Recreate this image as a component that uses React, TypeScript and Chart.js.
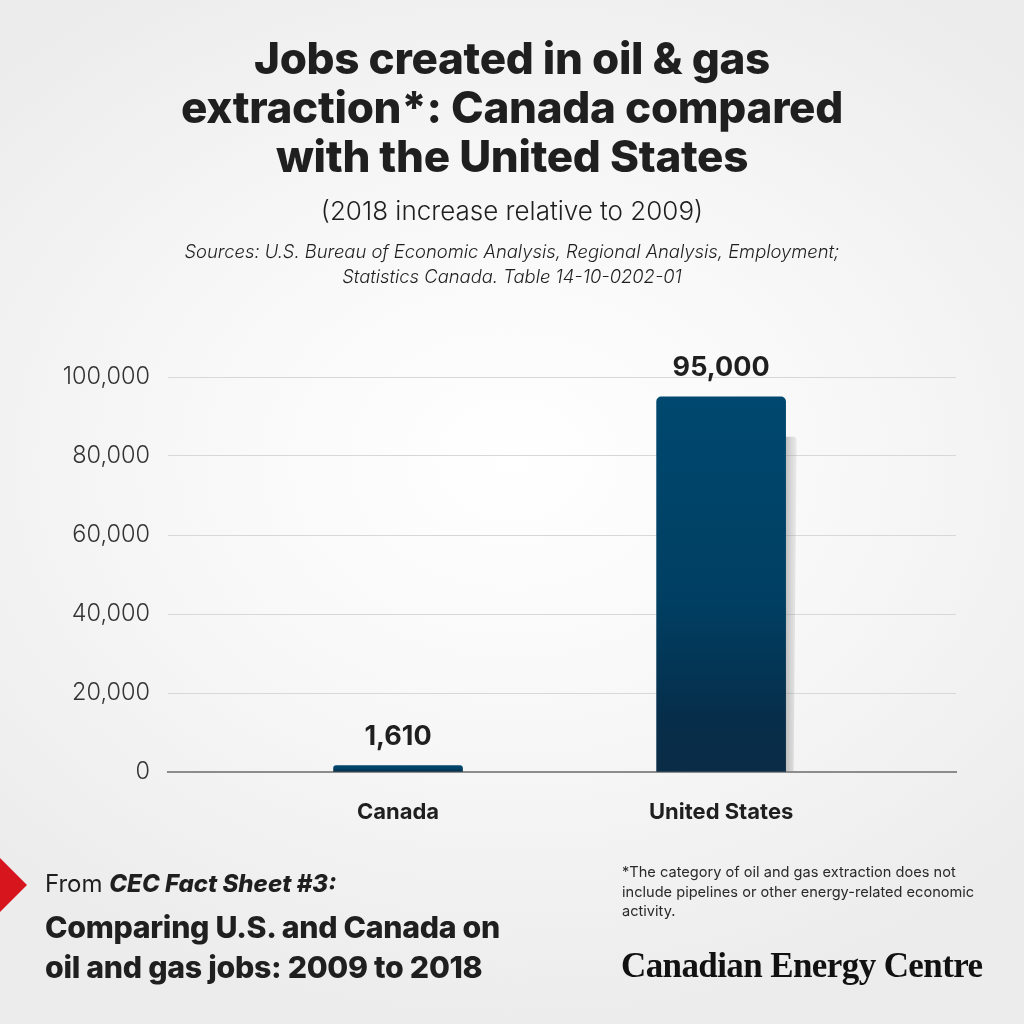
import React, { useEffect, useRef } from "react";
import { Chart, registerables } from "chart.js";

Chart.register(...registerables);

const categories = ["Canada", "United States"];
const jobsCreated = [1610, 95000];
const yTicks = [0, 20000, 40000, 60000, 80000, 100000];

const FONT = "Inter, 'Noto Sans', Lato, sans-serif";

const fmt = (v: number) => v.toLocaleString("en-US");

const valueLabels = {
  id: "valueLabels",
  afterDatasetsDraw(chart: any) {
    const ctx = chart.ctx;
    const meta = chart.getDatasetMeta(0);
    ctx.save();
    ctx.font = `700 27px ${FONT}`;
    ctx.fillStyle = "#1f1f1f";
    ctx.textAlign = "center";
    ctx.textBaseline = "alphabetic";
    meta.data.forEach((bar: any, i: number) => {
      ctx.fillText(fmt(jobsCreated[i]), bar.x, bar.y - 21);
    });
    ctx.restore();
  },
};

const barShadow = {
  id: "barShadow",
  beforeDatasetsDraw(chart: any) {
    const ctx = chart.ctx;
    const meta = chart.getDatasetMeta(0);
    ctx.save();
    meta.data.forEach((bar: any) => {
      const right = bar.x + bar.width / 2;
      const top = bar.y + 40;
      const base = bar.base;
      if (base - top < 20) return;
      const g = ctx.createLinearGradient(right, 0, right + 12, 0);
      g.addColorStop(0, "rgba(120,120,120,0.45)");
      g.addColorStop(1, "rgba(170,170,170,0.15)");
      ctx.fillStyle = g;
      ctx.beginPath();
      ctx.moveTo(right - 4, top);
      ctx.lineTo(right + 8, top);
      ctx.quadraticCurveTo(right + 11, top, right + 11, top + 4);
      ctx.lineTo(right + 8, base);
      ctx.lineTo(right - 4, base);
      ctx.closePath();
      ctx.fill();
    });
    ctx.restore();
  },
};

function ChartBox() {
  const ref = useRef<HTMLCanvasElement>(null);
  useEffect(() => {
    if (!ref.current) return;
    const chart = new Chart(ref.current, {
      type: "bar",
      data: {
        datasets: [
          {
            data: jobsCreated.map((v, i) => ({ x: i, y: v })),
            backgroundColor: (c: any) => {
              const ch = c.chart;
              const area = ch.chartArea;
              if (!area || c.raw == null) return "#00466d";
              const ys = ch.scales.y;
              const top = ys.getPixelForValue(c.raw.y);
              const base = ys.getPixelForValue(0);
              const g = ch.ctx.createLinearGradient(0, top, 0, Math.max(base, top + 1));
              g.addColorStop(0, "#00486f");
              g.addColorStop(0.55, "#003f62");
              g.addColorStop(0.85, "#062e4b");
              g.addColorStop(1, "#0a2c46");
              return g;
            },
            borderRadius: { topLeft: 5, topRight: 5, bottomLeft: 0, bottomRight: 0 },
            borderSkipped: "bottom",
            barThickness: 129,
          } as any,
        ],
      },
      plugins: [barShadow, valueLabels],
      options: {
        animation: false,
        responsive: false,
        maintainAspectRatio: false,
        layout: { padding: { left: 0, right: 68, top: 37, bottom: 0 } },
        plugins: {
          legend: { display: false },
          tooltip: { enabled: false },
          title: { display: false },
        },
        scales: {
          x: {
            type: "linear",
            offset: false,
            min: -0.712,
            max: 1.727,
            grid: { display: false, drawTicks: false },
            border: { display: true, color: "#8c8c8c", width: 2 },
            afterBuildTicks: (s: any) => {
              s.ticks = categories.map((_, i) => ({ value: i }));
            },
            afterFit: (s: any) => {
              s.height = 68;
            },
            ticks: {
              padding: 27,
              color: "#1f1f1f",
              font: { family: FONT, size: 22, weight: 700 },
              callback: (v: any) => categories[v] ?? "",
            },
          },
          y: {
            min: 0,
            max: 100000,
            afterBuildTicks: (s: any) => {
              s.ticks = yTicks.map((v) => ({ value: v }));
            },
            afterFit: (s: any) => {
              s.width = 168;
            },
            grid: { color: "#d8d8d8", lineWidth: 1, drawTicks: false },
            border: { display: false },
            ticks: {
              padding: 18,
              color: "#333333",
              font: { family: FONT, size: 23.5, weight: 300 },
              callback: (v: any) => fmt(Number(v)),
            },
          },
        },
      },
    });
    return () => chart.destroy();
  }, []);
  return (
    <canvas
      ref={ref}
      width={1024}
      height={500}
      style={{ position: "absolute", left: 0, top: 340, width: 1024, height: 500 }}
    />
  );
}

export default function App() {
  return (
    <div
      style={{
        position: "fixed",
        left: 0,
        top: 0,
        width: 1024,
        height: 1024,
        overflow: "hidden",
        background:
          "radial-gradient(ellipse 70% 55% at 50% 45%, #ffffff 0%, #f8f8f8 45%, #ececec 100%)",
        fontFamily: FONT,
        color: "#1f1f1f",
      }}
    >
      <div
        style={{
          position: "absolute",
          top: 34,
          left: 0,
          width: 1024,
          textAlign: "center",
          fontSize: 44,
          fontWeight: 800,
          lineHeight: "49px",
          letterSpacing: "-0.3px",
        }}
      >
        Jobs created in oil &amp; gas
        <br />
        extraction*: Canada compared
        <br />
        with the United States
      </div>
      <div
        style={{
          position: "absolute",
          top: 195,
          left: 0,
          width: 1024,
          textAlign: "center",
          fontSize: 26,
          fontWeight: 300,
        }}
      >
        (2018 increase relative to 2009)
      </div>
      <div
        style={{
          position: "absolute",
          top: 239,
          left: 0,
          width: 1024,
          textAlign: "center",
          fontSize: 18.4,
          fontWeight: 300,
          fontStyle: "italic",
          lineHeight: "25px",
        }}
      >
        Sources: U.S. Bureau of Economic Analysis, Regional Analysis, Employment;
        <br />
        Statistics Canada. Table 14-10-0202-01
      </div>

      <ChartBox />

      <div
        style={{
          position: "absolute",
          left: 0,
          top: 858,
          width: 0,
          height: 0,
          borderTop: "27px solid transparent",
          borderBottom: "27px solid transparent",
          borderLeft: "27px solid #d6161c",
        }}
      />
      <div
        style={{ position: "absolute", left: 45, top: 869, fontSize: 24, fontWeight: 400 }}
      >
        From <span style={{ fontWeight: 800, fontStyle: "italic" }}>CEC Fact Sheet #3:</span>
      </div>
      <div
        style={{
          position: "absolute",
          left: 45,
          top: 907,
          fontSize: 30.3,
          fontWeight: 800,
          lineHeight: "40px",
          letterSpacing: "-0.3px",
        }}
      >
        Comparing U.S. and Canada on
        <br />
        oil and gas jobs: 2009 to 2018
      </div>
      <div
        style={{
          position: "absolute",
          left: 622,
          top: 863,
          width: 362,
          fontSize: 14.6,
          fontWeight: 400,
          lineHeight: "19.5px",
          color: "#2a2a2a",
        }}
      >
        *The category of oil and gas extraction does not include pipelines or other
        energy-related economic activity.
      </div>
      <div
        style={{
          position: "absolute",
          left: 621,
          top: 946,
          fontFamily: "'Liberation Serif', 'DejaVu Serif', serif",
          fontSize: 35,
          fontWeight: 700,
          letterSpacing: "-0.6px",
          color: "#111",
        }}
      >
        Canadian Energy Centre
      </div>
    </div>
  );
}
